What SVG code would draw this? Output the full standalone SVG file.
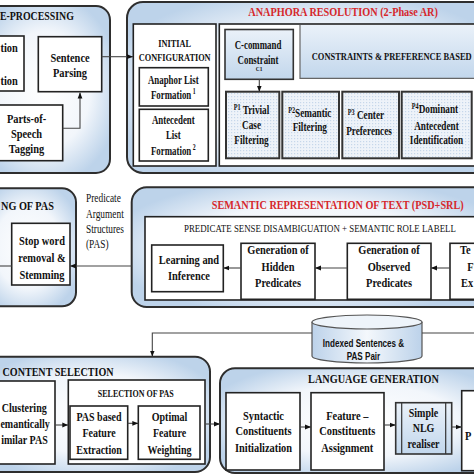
<svg xmlns="http://www.w3.org/2000/svg" width="474" height="474" viewBox="0 0 474 474">
<defs>
<radialGradient id="cg" cx="0.5" cy="0.5" r="0.58">
<stop offset="0" stop-color="#ffffff"/><stop offset="0.6" stop-color="#f2f6fb"/><stop offset="1" stop-color="#bdd3ea"/>
</radialGradient>
<linearGradient id="lb" x1="0" y1="0" x2="0" y2="1"><stop offset="0" stop-color="#eaf1f9"/><stop offset="1" stop-color="#c2d7ec"/></linearGradient>
<linearGradient id="cyl" x1="0" y1="0" x2="1" y2="0"><stop offset="0" stop-color="#bcd2ea"/><stop offset="0.5" stop-color="#f4f8fc"/><stop offset="1" stop-color="#bcd2ea"/></linearGradient>
<pattern id="dt" width="3" height="3" patternUnits="userSpaceOnUse"><rect width="3" height="3" fill="#eef3f9"/><rect width="1.2" height="1.2" fill="#c6d7ea"/></pattern>
<marker id="ah" viewBox="0 0 10 10" refX="10" refY="5" markerWidth="6" markerHeight="6" markerUnits="userSpaceOnUse" orient="auto"><path d="M0,1 L10,5 L0,9 z" fill="#111"/></marker>
</defs>
<style>
.ct{fill:url(#cg);stroke:#2e2e2e;stroke-width:2}
.bx{fill:#fff;stroke:#222;stroke-width:1.6}
.pb{fill:url(#dt);stroke:#333;stroke-width:2}
.lbx{fill:url(#lb);stroke:#333;stroke-width:1.6}
.ln{fill:none;stroke:#444;stroke-width:1.1}
.ar{marker-end:url(#ah)}
text{font-family:"Liberation Serif","Times New Roman",serif;font-weight:bold;fill:#111}
.m{text-anchor:middle}
.red{fill:#d6282c}
.rg{font-weight:normal}
.sans{font-family:"Liberation Sans",Arial,sans-serif}
</style>

<g id="preprocessing">
<rect class="ct" x="-20" y="6" width="130" height="167" rx="14"/>
<text transform="matrix(.77 0 0 1 0 0)" x="0" y="20" font-size="12.8">E-PROCESSING</text>
</g>
<g id="segmentation">
<rect class="bx" x="-10" y="36" width="34" height="55"/>
<text transform="matrix(.77 0 0 1 0.5 0)" font-size="13.5"><tspan x="0" y="52">tion</tspan><tspan x="0" y="85">tion</tspan></text>
</g>
<g id="sentence-parsing">
<rect class="bx" x="38.3" y="36.7" width="63.4" height="55"/>
<text class="m" transform="matrix(.77 0 0 1 70 0)" font-size="13.5"><tspan x="0" y="62">Sentence</tspan><tspan x="0" y="77">Parsing</tspan></text>
</g>
<g id="pos-tagging">
<rect class="bx" x="-10" y="105" width="72.7" height="55.7"/>
<text class="m" transform="matrix(.77 0 0 1 26.5 0)" font-size="13.5"><tspan x="0" y="123">Parts-of-</tspan><tspan x="0" y="138">Speech</tspan><tspan x="0" y="153">Tagging</tspan></text>
</g>

<g id="anaphora">
<rect class="ct" x="127" y="2" width="370" height="171" rx="16"/>
<text class="red" transform="matrix(.77 0 0 1 248.3 0)" x="0" y="16" font-size="13.3">ANAPHORA RESOLUTION (2-Phase AR)</text>
</g>
<g id="initial-config">
<rect class="bx" x="133.3" y="24" width="82.7" height="142"/>
<text class="m" transform="matrix(.77 0 0 1 174.7 0)" font-size="10.8"><tspan x="0" y="47.3">INITIAL</tspan><tspan x="0" y="60.7">CONFIGURATION</tspan></text>
</g>
<g id="anaphor-list">
<rect class="bx" x="139.3" y="67.7" width="69" height="38.3"/>
<text class="m" transform="matrix(.77 0 0 1 173.3 0)" font-size="11.5"><tspan x="0" y="84">Anaphor List</tspan><tspan x="0" y="99.3">Formation<tspan font-size="7.5" dx="2" dy="-5">1</tspan></tspan></text>
</g>
<g id="antecedent-list">
<rect class="bx" x="139.3" y="109.3" width="69" height="51.7"/>
<text class="m" transform="matrix(.77 0 0 1 173.3 0)" font-size="11.5"><tspan x="0" y="124">Antecedent</tspan><tspan x="0" y="139.3">List</tspan><tspan x="0" y="155">Formation<tspan font-size="7.5" dx="2" dy="-5">2</tspan></tspan></text>
</g>
<g id="constraints">
<rect class="bx" x="219.3" y="24" width="280" height="142"/>
<path d="M300,25 V78.3 H480 V25 z" fill="url(#lb)"/>
<path d="M300,25 V78.3 H474" fill="none" stroke="#666" stroke-width="1.2"/>
<text transform="matrix(.77 0 0 1 311.7 0)" x="0" y="60" font-size="11">CONSTRAINTS &amp; PREFERENCE BASED</text>
</g>
<g id="c-command">
<rect class="lbx" x="225" y="29.5" width="68.3" height="49.8"/>
<text class="m" transform="matrix(.77 0 0 1 258 0)" font-size="11.5"><tspan x="0" y="49.3">C-command</tspan><tspan x="0" y="64">Constraint</tspan><tspan x="1.5" y="71.5" font-size="7">C1</tspan></text>
</g>
<g id="p1">
<rect class="pb" x="226" y="91.7" width="53.3" height="66.6"/>
<text class="m" transform="matrix(.77 0 0 1 251.5 0)" font-size="12"><tspan x="0" y="114.3"><tspan font-size="8" dy="-4">P1</tspan><tspan dy="4"> Trivial</tspan></tspan><tspan x="0" y="129.3">Case</tspan><tspan x="0" y="144">Filtering</tspan></text>
</g>
<g id="p2">
<rect class="pb" x="282.3" y="91.7" width="56.7" height="66.6"/>
<text class="m" transform="matrix(.77 0 0 1 309.8 0)" font-size="12"><tspan x="0" y="117.3"><tspan font-size="8" dy="-4">P2</tspan><tspan dy="4">Semantic</tspan></tspan><tspan x="0" y="130.7">Filtering</tspan></text>
</g>
<g id="p3">
<rect class="pb" x="342.3" y="91.7" width="56.7" height="66.6"/>
<text class="m" transform="matrix(.77 0 0 1 369 0)" font-size="12"><tspan x="-4" y="119.3"><tspan font-size="8" dy="-4">P3</tspan><tspan dy="4"> Center</tspan></tspan><tspan x="0" y="135">Preferences</tspan></text>
</g>
<g id="p4">
<rect class="pb" x="401.7" y="91.7" width="70" height="66.6"/>
<text class="m" transform="matrix(.77 0 0 1 436.5 0)" font-size="12"><tspan x="-2" y="113.3"><tspan font-size="8" dy="-4">P4</tspan><tspan dy="4">Dominant</tspan></tspan><tspan x="0" y="130">Antecedent</tspan><tspan x="0" y="144">Identification</tspan></text>
</g>

<g id="pas-cleaning">
<rect class="ct" x="-20" y="188.3" width="96" height="118" rx="14"/>
<text transform="matrix(.77 0 0 1 1 0)" x="0" y="210" font-size="13.3">NG OF PAS</text>
</g>
<g id="stopword">
<rect class="bx" x="11.7" y="223.3" width="58.3" height="61.7"/>
<text class="m" transform="matrix(.77 0 0 1 42 0)" font-size="13.5"><tspan x="0" y="245">Stop word</tspan><tspan x="0" y="261.7">removal &amp;</tspan><tspan x="0" y="279">Stemming</tspan></text>
</g>
<g id="pas-label">
<text class="rg" transform="matrix(.78 0 0 1 86 0)" font-size="12"><tspan x="0" y="202">Predicate</tspan><tspan x="0" y="218">Argument</tspan><tspan x="0" y="233.5">Structures</tspan><tspan x="0" y="248.5">(PAS)</tspan></text>
</g>

<g id="semantic">
<rect class="ct" x="131.7" y="187.3" width="360" height="119.7" rx="15"/>
<text class="red" transform="matrix(.77 0 0 1 211.7 0)" x="0" y="209.3" font-size="13.3">SEMANTIC REPRESENTATION OF TEXT (PSD+SRL)</text>
<rect class="bx" x="145" y="216.7" width="340" height="83.3"/>
<text class="rg" transform="matrix(.86 0 0 1 184 0)" x="0" y="231.7" font-size="10.3">PREDICATE SENSE DISAMBIGUATION + SEMANTIC ROLE LABELL</text>
</g>
<g id="learning">
<rect class="bx" x="151.7" y="245" width="71.6" height="46.7"/>
<text class="m" transform="matrix(.77 0 0 1 189 0)" font-size="13.5"><tspan x="0" y="264">Learning and</tspan><tspan x="0" y="280.5">Inference</tspan></text>
</g>
<g id="hidden">
<rect class="bx" x="241" y="243.3" width="74" height="56"/>
<text class="m" transform="matrix(.77 0 0 1 278 0)" font-size="13.5"><tspan x="0" y="254">Generation of</tspan><tspan x="0" y="270.7">Hidden</tspan><tspan x="0" y="287.3">Predicates</tspan></text>
</g>
<g id="observed">
<rect class="bx" x="347.3" y="243.3" width="83.7" height="56"/>
<text class="m" transform="matrix(.77 0 0 1 389 0)" font-size="13.5"><tspan x="0" y="254">Generation of</tspan><tspan x="0" y="270.7">Observed</tspan><tspan x="0" y="287.3">Predicates</tspan></text>
</g>
<g id="text-feature">
<rect class="bx" x="450" y="243.3" width="40" height="56"/>
<text transform="matrix(.77 0 0 1 460 0)" font-size="13.5"><tspan x="0" y="254">Te</tspan><tspan x="9.5" y="270.7">F</tspan><tspan x="1.3" y="287.3">Ex</tspan></text>
</g>

<g id="indexed-db">
<path d="M312,322 V356 A55,7 0 0 0 422,356 V322" fill="url(#cyl)" stroke="#555" stroke-width="1.2"/>
<ellipse cx="367" cy="322" rx="55" ry="7" fill="#eef4fa" stroke="#555" stroke-width="1.2"/>
<text class="m sans" transform="matrix(.81 0 0 1 363.5 0)" font-size="10"><tspan x="0" y="347">Indexed Sentences &amp;</tspan><tspan x="0" y="360">PAS Pair</tspan></text>
</g>

<g id="content-selection">
<rect class="ct" x="-20" y="356.7" width="230" height="115.3" rx="15"/>
<text transform="matrix(.77 0 0 1 2.5 0)" x="0" y="376" font-size="13.1">CONTENT SELECTION</text>
</g>
<g id="clustering">
<rect class="bx" x="-10" y="381" width="65" height="83"/>
<text class="m" transform="matrix(.77 0 0 1 24.2 0)" x="0" y="411.7" font-size="13">Clustering</text>
<text transform="matrix(.77 0 0 1 0 0)" font-size="13"><tspan x="0.5" y="428.3">emantically</tspan><tspan x="1.5" y="444">imilar PAS</tspan></text>
</g>
<g id="selection-pas">
<rect class="bx" x="68.3" y="380" width="136.7" height="84"/>
<text class="m" transform="matrix(.77 0 0 1 135.8 0)" x="0" y="397" font-size="10.4">SELECTION OF PAS</text>
</g>
<g id="pas-feature">
<rect class="bx" x="70" y="406" width="57.7" height="53.3"/>
<text class="m" transform="matrix(.77 0 0 1 99 0)" font-size="13"><tspan x="0" y="420.7">PAS based</tspan><tspan x="0" y="437.3">Feature</tspan><tspan x="0" y="454">Extraction</tspan></text>
</g>
<g id="optimal-weighting">
<rect class="bx" x="138.3" y="406" width="61.7" height="53.3"/>
<text class="m" transform="matrix(.77 0 0 1 169.5 0)" font-size="13"><tspan x="0" y="420.7">Optimal</tspan><tspan x="0" y="437.5">Feature</tspan><tspan x="0" y="454.5">Weighting</tspan></text>
</g>

<g id="language-generation">
<rect class="ct" x="220" y="368.3" width="280" height="104.7" rx="15"/>
<text class="m" transform="matrix(.77 0 0 1 373.5 0)" x="0" y="383" font-size="13.3">LANGUAGE GENERATION</text>
</g>
<g id="syntactic">
<rect class="bx" x="226" y="392.7" width="74" height="77.3"/>
<text class="m" transform="matrix(.77 0 0 1 263.5 0)" font-size="13.5"><tspan x="0" y="420">Syntactic</tspan><tspan x="0" y="435">Constituents</tspan><tspan x="0" y="451.7">Initialization</tspan></text>
</g>
<g id="feature-assignment">
<rect class="bx" x="311" y="392.7" width="73" height="77.3"/>
<text class="m" transform="matrix(.77 0 0 1 347.3 0)" font-size="13.5"><tspan x="0" y="420">Feature –</tspan><tspan x="0" y="435">Constituents</tspan><tspan x="0" y="451.7">Assignment</tspan></text>
</g>
<g id="nlg-realiser">
<rect class="lbx" x="395.7" y="402.7" width="56" height="51.3"/>
<path d="M401.7,402.7 V454 M445.7,402.7 V454" stroke="#333" stroke-width="1.2"/>
<text class="m" transform="matrix(.77 0 0 1 423.5 0)" font-size="13"><tspan x="0" y="416.7">Simple</tspan><tspan x="0" y="432.3">NLG</tspan><tspan x="0" y="447.7">realiser</tspan></text>
</g>
<g id="post-processing">
<rect class="bx" x="461.7" y="390.7" width="40" height="80"/>
<text transform="matrix(.77 0 0 1 465 0)" x="0" y="440" font-size="13.5">P</text>
</g>

<g id="connectors">
<path class="ln ar" d="M62.7,128.3 H80 V92.5"/>
<path class="ln ar" d="M101.7,56.7 H133"/>
<path class="ln ar" d="M259.3,79.3 V91.7"/>
<path class="ln ar" d="M131.7,266 H70"/>
<path class="ln" d="M11.7,266 H0"/>
<path class="ln ar" d="M450,268 H431"/>
<path class="ln ar" d="M347.3,268 H315"/>
<path class="ln ar" d="M241,268 H223.3"/>
<path class="ln" d="M474,333 H422"/>
<path class="ln ar" d="M312,333 H152.3 V356.5"/>
<path class="ln ar" d="M55,425 H68.3"/>
<path class="ln ar" d="M127.7,423.3 H138.3"/>
<path class="ln ar" d="M205,424 H220"/>
<path class="ln ar" d="M300,427 H311"/>
<path class="ln ar" d="M384,425 H395.7"/>
<path class="ln ar" d="M451.7,427 H461.7"/>
</g>
</svg>
